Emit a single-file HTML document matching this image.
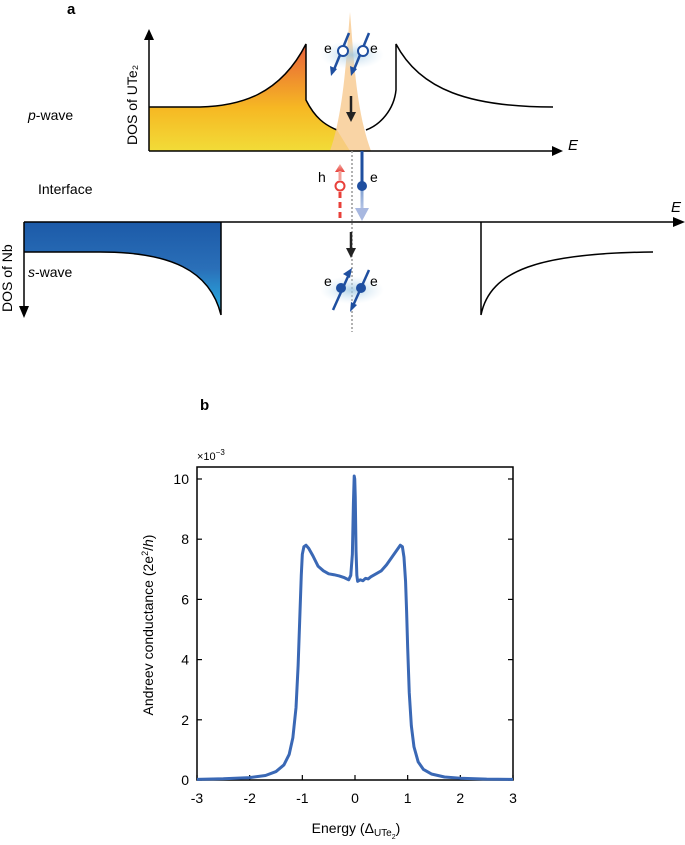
<!DOCTYPE html>
<html><head><meta charset="utf-8"><style>
body{margin:0;background:#fff;width:685px;height:840px;overflow:hidden;font-family:"Liberation Sans",sans-serif}
svg text{font-family:"Liberation Sans",sans-serif}
</style></head><body>
<svg width="685" height="840" viewBox="0 0 685 840">
<defs>
<linearGradient id="og" x1="0" y1="0" x2="0" y2="1"><stop offset="0" stop-color="#e8603a"/><stop offset="0.6" stop-color="#f6b823"/><stop offset="1" stop-color="#f2dc38"/></linearGradient>
<linearGradient id="bg" x1="0" y1="0" x2="0" y2="1"><stop offset="0" stop-color="#1c5aa8"/><stop offset="0.5" stop-color="#2a6fb8"/><stop offset="1" stop-color="#28b4e6"/></linearGradient>
<radialGradient id="glow"><stop offset="0" stop-color="#9cc6e0" stop-opacity="0.8"/><stop offset="1" stop-color="#cfe4f2" stop-opacity="0"/></radialGradient>
<linearGradient id="redf" x1="0" y1="1" x2="0" y2="0"><stop offset="0" stop-color="#e8403a"/><stop offset="1" stop-color="#f4b0a8"/></linearGradient>
<linearGradient id="bluef" x1="0" y1="0" x2="0" y2="1"><stop offset="0" stop-color="#7f9fd0"/><stop offset="1" stop-color="#b8c6e6"/></linearGradient>
</defs>
<text x="67" y="14" font-size="15" font-weight="bold">a</text>
<g>
<path d="M149,151 L149,107 L200,107 C240,106 280,95 306,44 L306,100 C315,118 325,125 337,130 L350,151 Z" fill="url(#og)"/>
<path d="M149,107 L200,107 C240,106 280,95 306,44 L306,100 C315,118 325,125 337,130" fill="none" stroke="#000" stroke-width="1.5"/>
<path d="M366,130 C380,125 394,110 396,90 L396,44 C420,90 470,107 553,107" fill="none" stroke="#000" stroke-width="1.5"/>
<path d="M350,12 C346,60 344,110 330,151 L371,151 C356,110 354,60 350,12 Z" fill="#f8c98f" opacity="0.8"/>
<line x1="149" y1="151" x2="556" y2="151" stroke="#000" stroke-width="1.5"/>
<path d="M563,151 L552,146 L552,156 Z" fill="#000"/>
<line x1="149" y1="151" x2="149" y2="36" stroke="#000" stroke-width="1.5"/>
<path d="M149,29 L144,40 L154,40 Z" fill="#000"/>
<text x="568" y="150" font-size="15" font-style="italic">E</text>
<text transform="translate(137,145) rotate(-90)" font-size="14">DOS of UTe₂</text>
<text x="28" y="120" font-size="14"><tspan font-style="italic">p</tspan>-wave</text>
</g>
<g>
<ellipse cx="352" cy="55" rx="32" ry="14" fill="url(#glow)"/>
<g stroke="#1f4fa0" stroke-width="2.5" fill="none">
<line x1="349" y1="33" x2="333" y2="72"/><line x1="369" y1="33" x2="353" y2="72"/>
</g>
<path d="M331,76 L330,66 L337,69 Z" fill="#1f4fa0"/><path d="M351,76 L350,66 L357,69 Z" fill="#1f4fa0"/>
<circle cx="343" cy="51" r="5" fill="#fff" stroke="#1f4fa0" stroke-width="2"/>
<circle cx="363" cy="51" r="5" fill="#fff" stroke="#1f4fa0" stroke-width="2"/>
<text x="324" y="53" font-size="14">e</text><text x="370" y="53" font-size="14">e</text>
<line x1="351" y1="96" x2="351" y2="114" stroke="#222" stroke-width="2.5"/><path d="M346,112 L356,112 L351,122 Z" fill="#222"/>
</g>
<text x="38" y="194" font-size="14">Interface</text>
<g>
<line x1="352" y1="151" x2="352" y2="332" stroke="#999" stroke-width="1.5" stroke-dasharray="2,2"/>
<path d="M340,164 L335,172 L345,172 Z" fill="url(#redf)"/><rect x="338.5" y="171" width="3" height="9" fill="#f3a098"/>
<line x1="340" y1="192" x2="340" y2="222" stroke="#e8403a" stroke-width="3" stroke-dasharray="6,4"/>
<circle cx="340" cy="186" r="4.5" fill="#fff" stroke="#e8403a" stroke-width="2"/>
<text x="318" y="182" font-size="14">h</text>
<line x1="362" y1="151" x2="362" y2="186" stroke="#1f4fa0" stroke-width="3"/>
<rect x="360.5" y="188" width="3" height="22" fill="url(#bluef)"/><path d="M355,208 L369,208 L362,221 Z" fill="#a8b8e0"/>
<circle cx="362" cy="186" r="5" fill="#1f4fa0"/>
<text x="370" y="182" font-size="14">e</text>
</g>
<g>
<path d="M24,222 L221,222 L221,315 C210,270 170,252 100,252 L24,252 Z" fill="url(#bg)"/>
<path d="M24,252 L100,252 C170,252 210,270 221,315 L221,222" fill="none" stroke="#000" stroke-width="1.5"/>
<path d="M481,222 L481,315 C490,270 540,253 653,252" fill="none" stroke="#000" stroke-width="1.5"/>
<line x1="24" y1="222" x2="676" y2="222" stroke="#000" stroke-width="1.5"/>
<path d="M685,222 L673,217 L673,227 Z" fill="#000"/>
<line x1="24" y1="222" x2="24" y2="310" stroke="#000" stroke-width="1.5"/>
<path d="M24,318 L19,306 L29,306 Z" fill="#000"/>
<text x="671" y="212" font-size="15" font-style="italic">E</text>
<text transform="translate(12,312) rotate(-90)" font-size="14">DOS of Nb</text>
<text x="28" y="277" font-size="14"><tspan font-style="italic">s</tspan>-wave</text>
</g>
<g>
<line x1="351" y1="232" x2="351" y2="250" stroke="#222" stroke-width="2.5"/><path d="M346,248 L356,248 L351,258 Z" fill="#222"/>
<ellipse cx="352" cy="290" rx="32" ry="14" fill="url(#glow)"/>
<g stroke="#1f4fa0" stroke-width="2.5" fill="none">
<line x1="333" y1="310" x2="350" y2="272"/><line x1="369" y1="270" x2="352" y2="308"/>
</g>
<path d="M352,268 L343,274 L350,278 Z" fill="#1f4fa0"/><path d="M350,312 L351,302 L357,305 Z" fill="#1f4fa0"/>
<circle cx="341" cy="288" r="5" fill="#1f4fa0"/><circle cx="361" cy="288" r="5" fill="#1f4fa0"/>
<text x="324" y="286" font-size="14">e</text><text x="370" y="286" font-size="14">e</text>
</g>
<text x="200" y="410" font-size="15" font-weight="bold">b</text>
<text x="197" y="460" font-size="11">×10<tspan dy="-5" font-size="8">−3</tspan></text>
<g id="chart"></g>
</svg>
<script>
const xTicks=[-3,-2,-1,0,1,2,3];
const yTicks=[0,2,4,6,8,10];
const energy=[-3,-2.5,-2,-1.7,-1.5,-1.35,-1.25,-1.18,-1.12,-1.08,-1.05,-1.02,-1.0,-0.97,-0.93,-0.88,-0.8,-0.7,-0.6,-0.5,-0.4,-0.3,-0.2,-0.12,-0.08,-0.05,-0.03,-0.015,-0.005,0.005,0.02,0.035,0.05,0.1,0.15,0.2,0.25,0.3,0.4,0.5,0.6,0.7,0.8,0.86,0.9,0.93,0.96,0.98,1.0,1.03,1.07,1.12,1.2,1.3,1.45,1.7,2,2.5,3];
const conductance=[0.02,0.04,0.08,0.15,0.28,0.5,0.85,1.4,2.4,3.8,5.3,6.8,7.5,7.75,7.8,7.7,7.45,7.1,6.95,6.85,6.82,6.78,6.72,6.65,6.8,7.5,9.2,10.1,10.0,9.4,7.6,6.8,6.6,6.65,6.62,6.7,6.68,6.75,6.85,6.95,7.15,7.4,7.65,7.8,7.75,7.4,6.6,5.6,4.4,2.9,1.8,1.1,0.6,0.35,0.2,0.1,0.06,0.03,0.02];
const NS='http://www.w3.org/2000/svg';
const L=197,R=513,T=467,B=780;
const sx=v=>L+(v+3)/6*(R-L);
const sy=v=>B-v/10*(B-479);
const g=document.getElementById('chart');
function mk(t,a){const e=document.createElementNS(NS,t);for(const k in a)e.setAttribute(k,a[k]);g.appendChild(e);return e;}
const frame=mk('rect',{x:L,y:T,width:R-L,height:B-T,fill:'none',stroke:'#000','stroke-width':1.5});


xTicks.forEach(v=>{
 const t=mk('line',{x1:sx(v),x2:sx(v),y1:B,y2:B-5,stroke:'#000','stroke-width':1.2});
 
 
 const tx=mk('text',{x:sx(v),y:B+23,'font-size':14,'text-anchor':'middle'});
 tx.textContent=v;
 
 
});
yTicks.forEach(v=>{
 const t=mk('line',{x1:L,x2:L+5,y1:sy(v),y2:sy(v),stroke:'#000','stroke-width':1.2});
 
 
 const t2=mk('line',{x1:R,x2:R-5,y1:sy(v),y2:sy(v),stroke:'#000','stroke-width':1.2});
 
 
 const tx=mk('text',{x:L-8,y:sy(v)+5,'font-size':14,'text-anchor':'end'});
 tx.textContent=v;
 
 
});
let d='';energy.forEach((e,i)=>{d+=(i?'L':'M')+sx(e).toFixed(2)+','+sy(conductance[i]).toFixed(2);});
const p=mk('path',{d:d,fill:'none',stroke:'#3a68b5','stroke-width':3,'stroke-linejoin':'round'});


const yl=mk('text',{transform:'translate(153,625) rotate(-90)','font-size':14,'text-anchor':'middle'});
yl.innerHTML='Andreev conductance (2e<tspan dy="-5" font-size="9">2</tspan><tspan dy="5">/</tspan><tspan font-style="italic">h</tspan>)';


const xl=mk('text',{x:356,y:833,'font-size':14,'text-anchor':'middle'});
xl.innerHTML='Energy (Δ<tspan font-size="10" dy="3">UTe</tspan><tspan font-size="7" dy="3">2</tspan><tspan dy="-6">)</tspan>';


</script>
</body></html>
